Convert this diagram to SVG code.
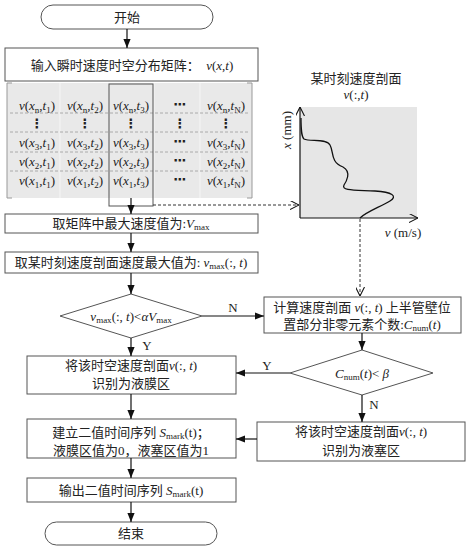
<svg xmlns="http://www.w3.org/2000/svg" width="474" height="551" viewBox="0 0 474 551">
<defs>
<style>
text{font-family:"Liberation Serif","Noto Sans CJK SC",serif;font-size:13px;fill:#222}
.i{font-style:italic}
.s{font-size:9px}
.box{fill:#fff;stroke:#555;stroke-width:1}
.ln{fill:none;stroke:#111;stroke-width:1.2}
.dash{fill:none;stroke:#333;stroke-width:1;stroke-dasharray:3,2}
.rowd{stroke:#9a9a9a;stroke-width:0.8;stroke-dasharray:3,2}
.cold{stroke:#f6f6f6;stroke-width:1}
.dots{font-family:"DejaVu Sans",sans-serif;font-size:13px;font-weight:bold}
</style>
<marker id="a" viewBox="0 0 10 8" refX="10" refY="4" markerWidth="9" markerHeight="7.2" orient="auto" markerUnits="userSpaceOnUse"><path d="M0,0 L10,4 L0,8 z" fill="#111"/></marker>
<marker id="o" viewBox="0 0 10 10" refX="10" refY="5" markerWidth="9" markerHeight="9" orient="auto" markerUnits="userSpaceOnUse"><path d="M0,0 L10,5 L0,10" fill="none" stroke="#111" stroke-width="1.2"/></marker>
</defs>
<rect width="474" height="551" fill="#fff"/>

<g id="start"><rect class="box" x="41" y="5" width="172" height="24" rx="12"/><text x="127" y="21.5" text-anchor="middle">开始</text></g>

<g id="input"><rect class="box" x="5" y="48" width="253" height="33"/><text x="132" y="69.5" text-anchor="middle" xml:space="preserve">输入瞬时速度时空分布矩阵：  <tspan class="i">v</tspan>(<tspan class="i">x</tspan>,<tspan class="i">t</tspan>)</text></g>

<g id="matrix">
<rect x="7" y="83" width="245" height="115" fill="#e9e9e9"/>
<path d="M12,83 H7 V198 H12 M247,83 H252 V198 H247" fill="none" stroke="#999" stroke-width="1"/>
<g class="cold"><line x1="60" y1="83" x2="60" y2="198"/><line x1="154" y1="83" x2="154" y2="198"/><line x1="200" y1="83" x2="200" y2="198"/></g>
<g class="rowd"><line x1="10" y1="113" x2="250" y2="113"/><line x1="10" y1="132" x2="250" y2="132"/><line x1="10" y1="152" x2="250" y2="152"/><line x1="10" y1="171" x2="250" y2="171"/></g>
<g text-anchor="middle">
<text x="37" y="109.5"><tspan class="i">v</tspan>(<tspan class="i">x</tspan><tspan class="s" dy="3">n</tspan><tspan dy="-3">,</tspan><tspan class="i">t</tspan><tspan class="s" dy="3">1</tspan><tspan dy="-3">)</tspan></text>
<text x="85" y="109.5"><tspan class="i">v</tspan>(<tspan class="i">x</tspan><tspan class="s" dy="3">n</tspan><tspan dy="-3">,</tspan><tspan class="i">t</tspan><tspan class="s" dy="3">2</tspan><tspan dy="-3">)</tspan></text>
<text x="131" y="109.5"><tspan class="i">v</tspan>(<tspan class="i">x</tspan><tspan class="s" dy="3">n</tspan><tspan dy="-3">,</tspan><tspan class="i">t</tspan><tspan class="s" dy="3">3</tspan><tspan dy="-3">)</tspan></text>
<text x="180" y="108.5" class="dots">⋯</text>
<text x="226" y="109.5"><tspan class="i">v</tspan>(<tspan class="i">x</tspan><tspan class="s" dy="3">n</tspan><tspan dy="-3">,</tspan><tspan class="i">t</tspan><tspan class="s" dy="3">N</tspan><tspan dy="-3">)</tspan></text>

<text x="37" y="128" class="dots">⋮</text><text x="85" y="128" class="dots">⋮</text><text x="131" y="128" class="dots">⋮</text><text x="180" y="128" class="dots">⋮</text><text x="226" y="128" class="dots">⋮</text>

<text x="37" y="146.5"><tspan class="i">v</tspan>(<tspan class="i">x</tspan><tspan class="s" dy="3">3</tspan><tspan dy="-3">,</tspan><tspan class="i">t</tspan><tspan class="s" dy="3">1</tspan><tspan dy="-3">)</tspan></text>
<text x="85" y="146.5"><tspan class="i">v</tspan>(<tspan class="i">x</tspan><tspan class="s" dy="3">3</tspan><tspan dy="-3">,</tspan><tspan class="i">t</tspan><tspan class="s" dy="3">2</tspan><tspan dy="-3">)</tspan></text>
<text x="131" y="146.5"><tspan class="i">v</tspan>(<tspan class="i">x</tspan><tspan class="s" dy="3">3</tspan><tspan dy="-3">,</tspan><tspan class="i">t</tspan><tspan class="s" dy="3">3</tspan><tspan dy="-3">)</tspan></text>
<text x="180" y="145.5" class="dots">⋯</text>
<text x="226" y="146.5"><tspan class="i">v</tspan>(<tspan class="i">x</tspan><tspan class="s" dy="3">3</tspan><tspan dy="-3">,</tspan><tspan class="i">t</tspan><tspan class="s" dy="3">N</tspan><tspan dy="-3">)</tspan></text>

<text x="37" y="165.5"><tspan class="i">v</tspan>(<tspan class="i">x</tspan><tspan class="s" dy="3">2</tspan><tspan dy="-3">,</tspan><tspan class="i">t</tspan><tspan class="s" dy="3">1</tspan><tspan dy="-3">)</tspan></text>
<text x="85" y="165.5"><tspan class="i">v</tspan>(<tspan class="i">x</tspan><tspan class="s" dy="3">2</tspan><tspan dy="-3">,</tspan><tspan class="i">t</tspan><tspan class="s" dy="3">2</tspan><tspan dy="-3">)</tspan></text>
<text x="131" y="165.5"><tspan class="i">v</tspan>(<tspan class="i">x</tspan><tspan class="s" dy="3">2</tspan><tspan dy="-3">,</tspan><tspan class="i">t</tspan><tspan class="s" dy="3">3</tspan><tspan dy="-3">)</tspan></text>
<text x="180" y="164.5" class="dots">⋯</text>
<text x="226" y="165.5"><tspan class="i">v</tspan>(<tspan class="i">x</tspan><tspan class="s" dy="3">2</tspan><tspan dy="-3">,</tspan><tspan class="i">t</tspan><tspan class="s" dy="3">N</tspan><tspan dy="-3">)</tspan></text>

<text x="37" y="184.5"><tspan class="i">v</tspan>(<tspan class="i">x</tspan><tspan class="s" dy="3">1</tspan><tspan dy="-3">,</tspan><tspan class="i">t</tspan><tspan class="s" dy="3">1</tspan><tspan dy="-3">)</tspan></text>
<text x="85" y="184.5"><tspan class="i">v</tspan>(<tspan class="i">x</tspan><tspan class="s" dy="3">1</tspan><tspan dy="-3">,</tspan><tspan class="i">t</tspan><tspan class="s" dy="3">2</tspan><tspan dy="-3">)</tspan></text>
<text x="131" y="184.5"><tspan class="i">v</tspan>(<tspan class="i">x</tspan><tspan class="s" dy="3">1</tspan><tspan dy="-3">,</tspan><tspan class="i">t</tspan><tspan class="s" dy="3">3</tspan><tspan dy="-3">)</tspan></text>
<text x="180" y="183.5" class="dots">⋯</text>
<text x="226" y="184.5"><tspan class="i">v</tspan>(<tspan class="i">x</tspan><tspan class="s" dy="3">1</tspan><tspan dy="-3">,</tspan><tspan class="i">t</tspan><tspan class="s" dy="3">N</tspan><tspan dy="-3">)</tspan></text>
</g>
<rect x="109" y="84" width="44" height="122" fill="none" stroke="#555" stroke-width="1"/>
</g>

<g id="profile">
<rect x="300" y="107" width="117" height="111" fill="#e6e6e6"/>
<text x="356" y="83" text-anchor="middle">某时刻速度剖面</text>
<text x="356" y="99" text-anchor="middle"><tspan class="i">v</tspan>(:,<tspan class="i">t</tspan>)</text>
<text transform="translate(291,130) rotate(-90)" text-anchor="middle"><tspan class="i">x</tspan> (mm)</text>
<text x="403" y="237" text-anchor="middle"><tspan class="i">v</tspan> (m/s)</text>
<line class="ln" x1="300" y1="218" x2="300" y2="107" marker-end="url(#o)"/>
<line class="ln" x1="300" y1="218" x2="418" y2="218" marker-end="url(#o)"/>
<path d="M301,118 C301,128 301,136 304,139 C310,142 326,138 330,145 C334,152 330,162 343,167 C352,172 346,182 344,185 C341,191 355,190 375,191 C392,192 398,196 390,201 C380,207 366,212 360,218" fill="none" stroke="#111" stroke-width="1.3"/>
</g>

<g id="vmax"><rect class="box" x="5" y="214" width="253" height="19"/><text x="131" y="228" text-anchor="middle">取矩阵中最大速度值为:<tspan class="i">V</tspan><tspan class="s" dy="2">max</tspan></text></g>

<g id="vmaxt"><rect class="box" x="5" y="252" width="253" height="21"/><text x="131" y="267" text-anchor="middle" xml:space="preserve">取某时刻速度剖面速度最大值为: <tspan class="i">v</tspan><tspan class="s" dy="2">max</tspan><tspan dy="-2">(:, </tspan><tspan class="i">t</tspan>)</text></g>

<g id="dec1"><path class="box" d="M60,316 L131,294 L202,316 L131,338 Z"/><text x="131" y="320.5" text-anchor="middle" xml:space="preserve"><tspan class="i">v</tspan><tspan class="s" dy="2">max</tspan><tspan dy="-2">(:, </tspan><tspan class="i">t</tspan>)&lt;<tspan class="i">αV</tspan><tspan class="s" dy="2">max</tspan></text></g>

<g id="cnum"><rect class="box" x="264" y="297" width="197" height="36"/>
<text x="362" y="311.5" text-anchor="middle" xml:space="preserve">计算速度剖面 <tspan class="i">v</tspan>(:, <tspan class="i">t</tspan>) 上半管壁位</text>
<text x="362" y="329" text-anchor="middle">置部分非零元素个数:<tspan class="i">C</tspan><tspan class="s" dy="2">num</tspan><tspan dy="-2">(</tspan><tspan class="i">t</tspan>)</text></g>

<g id="dec2"><path class="box" d="M290,373 L362,350 L433,373 L362,395 Z"/><text x="362" y="378" text-anchor="middle" xml:space="preserve"><tspan class="i">C</tspan><tspan class="s" dy="2">num</tspan><tspan dy="-2">(</tspan><tspan class="i">t</tspan>)&lt; <tspan class="i">β</tspan></text></g>

<g id="film"><rect class="box" x="27" y="356" width="209" height="38"/>
<text x="131" y="370" text-anchor="middle">将该时空速度剖面<tspan class="i">v</tspan>(:, <tspan class="i">t</tspan>)</text>
<text x="131" y="388" text-anchor="middle">识别为液膜区</text></g>

<g id="slug"><rect class="box" x="257" y="422" width="208" height="39"/>
<text x="361" y="436" text-anchor="middle">将该时空速度剖面<tspan class="i">v</tspan>(:, <tspan class="i">t</tspan>)</text>
<text x="361" y="454.5" text-anchor="middle">识别为液塞区</text></g>

<g id="series"><rect class="box" x="27" y="419" width="209" height="39"/>
<text x="131" y="437" text-anchor="middle" xml:space="preserve">建立二值时间序列 <tspan class="i">S</tspan><tspan class="s" dy="2">mark</tspan><tspan dy="-2">(t)；</tspan></text>
<text x="131" y="454.5" text-anchor="middle">液膜区值为0，液塞区值为1</text></g>

<g id="output"><rect class="box" x="27" y="478" width="209" height="24"/><text x="131" y="494.5" text-anchor="middle" xml:space="preserve">输出二值时间序列 <tspan class="i">S</tspan><tspan class="s" dy="2">mark</tspan><tspan dy="-2">(t)</tspan></text></g>

<g id="end"><rect class="box" x="45" y="522" width="172" height="23" rx="11.5"/><text x="131" y="538" text-anchor="middle">结束</text></g>

<g id="connectors">
<line class="ln" x1="127" y1="29" x2="127" y2="48" marker-end="url(#a)"/>
<line class="ln" x1="131" y1="198" x2="131" y2="214" marker-end="url(#a)"/>
<line class="dash" x1="153" y1="205" x2="299" y2="205" marker-end="url(#o)"/>
<line class="dash" x1="360" y1="219" x2="360" y2="296" marker-end="url(#o)"/>
<line class="ln" x1="131" y1="233" x2="131" y2="252" marker-end="url(#a)"/>
<line class="ln" x1="131" y1="273" x2="131" y2="294" marker-end="url(#a)"/>
<line class="ln" x1="202" y1="316" x2="264" y2="316" marker-end="url(#a)"/>
<text x="233" y="312" text-anchor="middle">N</text>
<line class="ln" x1="131" y1="338" x2="131" y2="356" marker-end="url(#a)"/>
<text x="147" y="350" text-anchor="middle">Y</text>
<line class="ln" x1="362" y1="333" x2="362" y2="350" marker-end="url(#a)"/>
<line class="ln" x1="290" y1="373" x2="236" y2="373" marker-end="url(#a)"/>
<text x="267" y="370" text-anchor="middle">Y</text>
<line class="ln" x1="362" y1="395" x2="362" y2="422" marker-end="url(#a)"/>
<text x="374" y="409" text-anchor="middle">N</text>
<line class="ln" x1="131" y1="394" x2="131" y2="419" marker-end="url(#a)"/>
<line class="ln" x1="257" y1="439" x2="236" y2="439" marker-end="url(#a)"/>
<line class="ln" x1="131" y1="458" x2="131" y2="478" marker-end="url(#a)"/>
<line class="ln" x1="131" y1="502" x2="131" y2="522" marker-end="url(#a)"/>
</g>
</svg>
